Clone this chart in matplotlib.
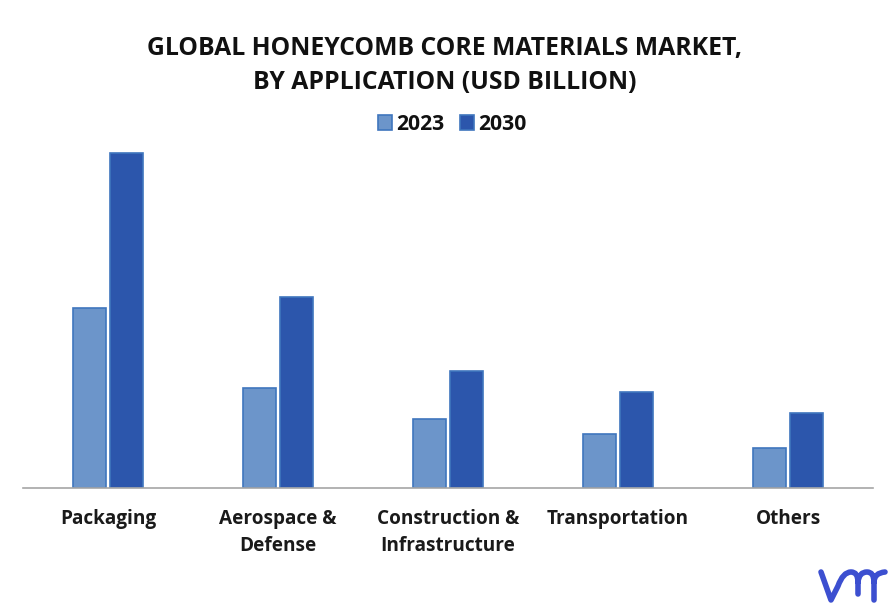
import matplotlib
matplotlib.use("Agg")
import matplotlib.pyplot as plt
import numpy as np
from matplotlib.path import Path
from matplotlib.patches import PathPatch

categories = ["Packaging", "Aerospace &\nDefense", "Construction &\nInfrastructure", "Transportation", "Others"]
values_2023 = [180, 100, 69, 54, 40]
values_2030 = [335, 191, 117, 96, 75]
title = "GLOBAL HONEYCOMB CORE MATERIALS MARKET,\nBY APPLICATION (USD BILLION)"

W, H = 896, 613
plt.rcParams["font.family"] = ["Open Sans", "DejaVu Sans"]
plt.rcParams["font.weight"] = "bold"

fig = plt.figure(figsize=(W / 100, H / 100), dpi=100)

# eixo principal: linha de base em y=488, topo em y=140
ax = fig.add_axes([23 / W, 1 - 488 / H, 850 / W, 348 / H])
x = np.arange(len(categories))
w = 32.5 / 170
gap = 4.5 / 170
b1 = ax.bar(x - (w + gap) / 2, values_2023, w, color="#6c95ca", edgecolor="#3f76bd", linewidth=1.2, label="2023")
b2 = ax.bar(x + (w + gap) / 2, values_2030, w, color="#2c56ac", edgecolor="#3f76bd", linewidth=1.2, label="2030")
ax.set_xlim(-0.5, 4.5)
ax.set_ylim(0, 348)
ax.set_yticks([])
ax.set_xticks(x)
ax.set_xticklabels(categories, fontsize=13.7, color="#1a1a1a", linespacing=1.48, va="top")
ax.tick_params(axis="x", length=0, pad=15)
for s in ["top", "left", "right"]:
    ax.spines[s].set_visible(False)
ax.spines["bottom"].set_color("#a6a6a6")
ax.spines["bottom"].set_linewidth(1.2)

fig.text(444.5 / W, 1 - 65.5 / H, title, ha="center", va="center", fontsize=17.8,
         color="#111111", linespacing=1.5)
fig.legend(handles=[b1, b2], loc="center", bbox_to_anchor=(452 / W, 1 - 124.5 / H), ncol=2,
           frameon=False, fontsize=15.2, handlelength=0.68, handleheight=0.68,
           handletextpad=0.2, columnspacing=0.72, labelcolor="#111111")

# logo no canto inferior direito
over = fig.add_axes([0, 0, 1, 1])
over.set_xlim(0, W)
over.set_ylim(H, 0)
over.axis("off")
verts = [(821, 572), (831, 600), (838, 586), (843, 572), (851, 572), (858, 572), (858, 582), (858, 594),
         (858, 582), (859, 572), (867, 572), (874, 572), (874, 582), (874, 600),
         (874, 582), (874, 573), (885, 572)]
codes = [Path.MOVETO, Path.LINETO, Path.LINETO, Path.CURVE3, Path.CURVE3, Path.CURVE3, Path.CURVE3, Path.LINETO,
         Path.MOVETO, Path.CURVE3, Path.CURVE3, Path.CURVE3, Path.CURVE3, Path.LINETO,
         Path.MOVETO, Path.CURVE3, Path.CURVE3]
over.add_patch(PathPatch(Path(verts, codes), fill=False, edgecolor="#3c4fd0", linewidth=4.0,
                         capstyle="round", joinstyle="round"))

fig.savefig("out.png", dpi=100)
